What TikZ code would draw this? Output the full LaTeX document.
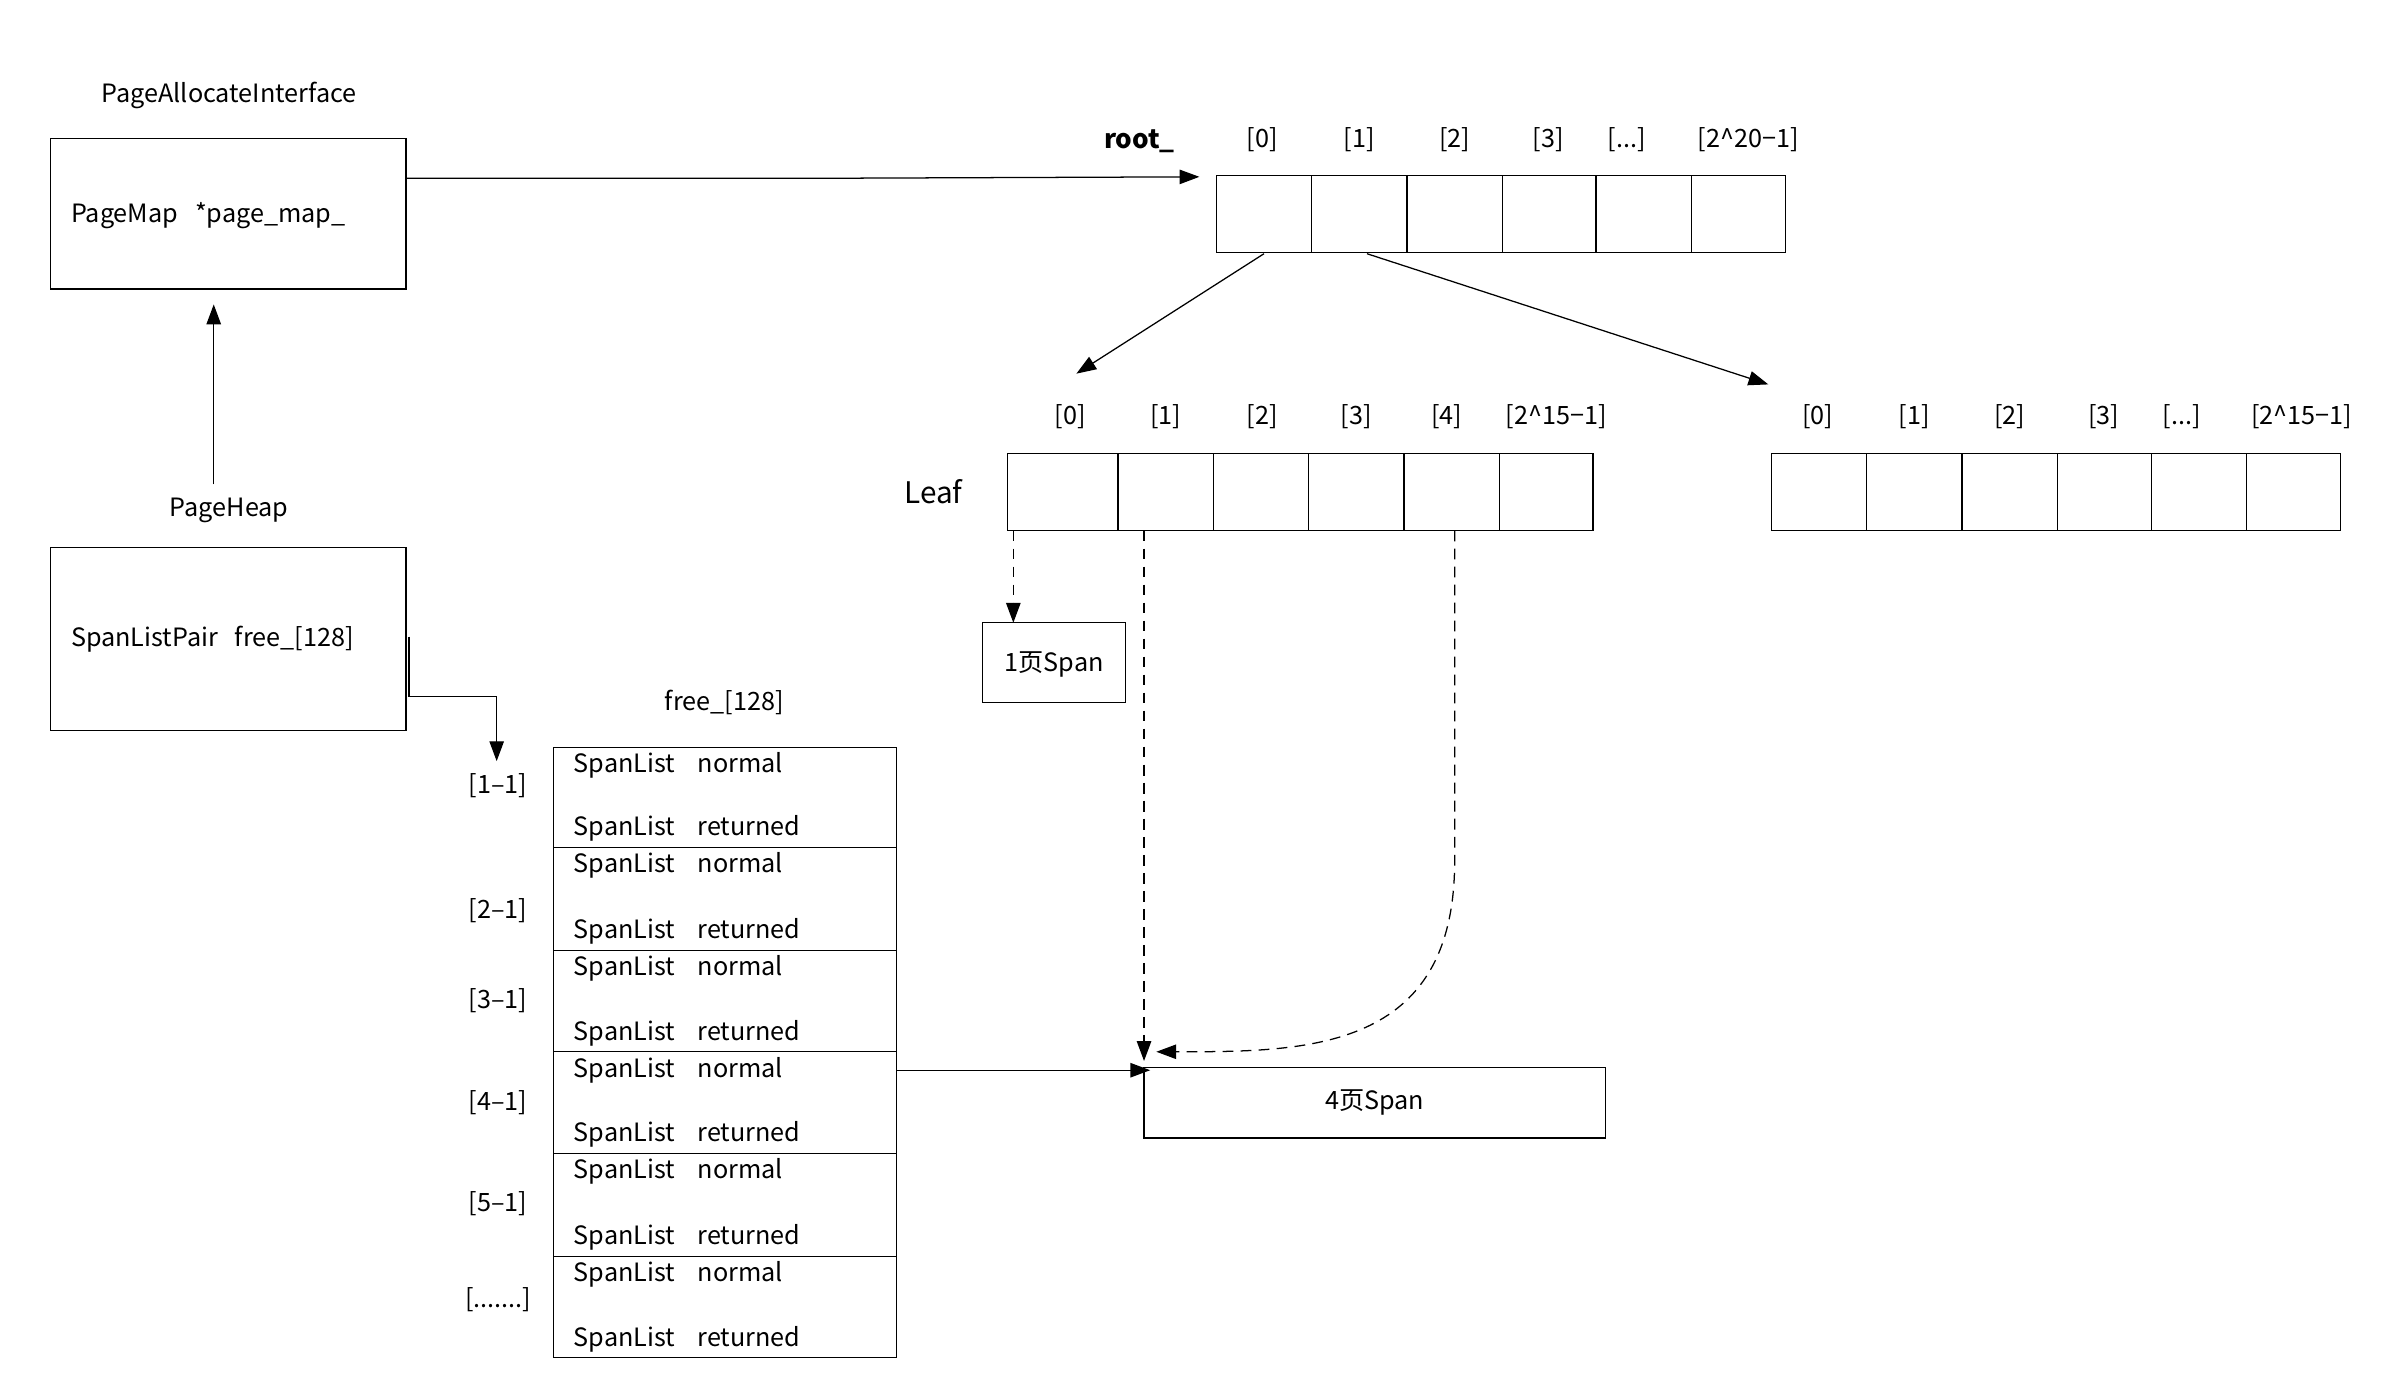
\documentclass[tikz,border=0pt]{standalone}
\usepackage{fontspec}
\setmainfont{Noto Sans CJK SC}
\usetikzlibrary{arrows.meta}
\begin{document}
\begin{tikzpicture}[x=0.03cm,y=-0.03cm,
  every node/.style={font=\fontsize{14}{16}\selectfont, inner sep=0},
  box/.style={draw, line width=0.7pt},
  conn/.style={draw, line width=0.7pt, -{Triangle[length=11pt,width=8pt]}},
  dconn/.style={conn, dash pattern=on 6pt off 4pt}]
\useasboundingbox (0,0) rectangle (1553,906.6);
% top-left boxes
\node at (149,62) {PageAllocateInterface};
\node[box, minimum width=231*0.03cm, minimum height=98*0.03cm] (A) at (148.5,139) {};
\node[anchor=west] at (46,140) {PageMap\ \ \ *page\_map\_};
\node at (149,332) {PageHeap};
\node[box, minimum width=231*0.03cm, minimum height=119*0.03cm] (B) at (148.5,415.5) {};
\node[anchor=west] at (46,416) {SpanListPair\ \ \ free\_[128]};
\coordinate (Bup) at (139,315); \coordinate (Atop) at (139,198);
\draw[conn] (Bup) -- (Atop);
% root array
\node[font=\fontsize{14.5}{16}\selectfont\bfseries] at (741,92) {root\_};
\foreach \a/\b in {791/853,853/915,915/977,977/1038,1038/1100,1100/1161}
  \draw[box] (\a,114) rectangle (\b,164);
\foreach \x/\t in {821/{[0]},884/{[1]},946/{[2]},1007/{[3]},1058/{[{.}{.}{.}]},1137/{[2\^{}20−1]}}
  \node at (\x,91) {\t};
\coordinate (rootin) at (780,115);
\draw[conn] (264,116) -- (520,116) -- (rootin);
\coordinate (r0b) at (822,165); \coordinate (r1b) at (889,165);
\coordinate (leafhead) at (700,243); \coordinate (righthead) at (1150,250);
\draw[conn] (r0b) -- (leafhead);
\draw[conn] (r1b) -- (righthead);
% leaf array
\node at (607,320) {\fontsize{16.5}{18}\selectfont Leaf};
\foreach \a/\b in {655/727,727/789,789/851,851/913,913/975,975/1036}
  \draw[box] (\a,295) rectangle (\b,345);
\foreach \x/\t in {696/{[0]},758/{[1]},821/{[2]},882/{[3]},941/{[4]},1012/{[2\^{}15−1]}}
  \node at (\x,271) {\t};
% right array
\foreach \a/\b in {1152/1214,1214/1276,1276/1338,1338/1399,1399/1461,1461/1522}
  \draw[box] (\a,295) rectangle (\b,345);
\foreach \x/\t in {1182/{[0]},1245/{[1]},1307/{[2]},1368/{[3]},1419/{[{.}{.}{.}]},1497/{[2\^{}15−1]}}
  \node at (\x,271) {\t};
% spans
\node[box, minimum width=93*0.03cm, minimum height=52*0.03cm] (s1) at (685.5,431) {};
\node at (685.5,432) {1页Span};
\node[box, minimum width=300*0.03cm, minimum height=46*0.03cm] (s4) at (894,717) {};
\node at (894,717) {4页Span};
\coordinate (l0) at (659,345); \coordinate (l1) at (744,345); \coordinate (l4) at (946,345);
\draw[dconn] (l0) -- (659,405);
\draw[dconn] (l1) -- (744,690);
\draw[dconn] (l4) -- (946,560) .. controls (946,684) and (850,684) .. (752,684);
% free table
\node at (471,457) {free\_[128]};
\coordinate (Bout) at (266,414);
\draw[conn] (Bout) -- (266,453) -- (323,453) -- (323,495);
\foreach \a/\b in {486/551,551/618,618/684,684/750,750/817,817/883}{
  \draw[box] (360,\a) rectangle (583,\b);
  \node[anchor=west] at (373,\a+12) {SpanList\ \ \ \ normal};
  \node[anchor=west] at (373,\b-12) {SpanList\ \ \ \ returned};
}
\foreach \y/\t in {511/{[1–1]},592/{[2–1]},651/{[3–1]},717/{[4–1]},783/{[5–1]},845/{[{.}{.}{.}{.}{.}{.}{.}]}}
  \node at (324,\y) {\t};
\draw[conn] (583,696) -- (748,696);
\end{tikzpicture}
\end{document}
